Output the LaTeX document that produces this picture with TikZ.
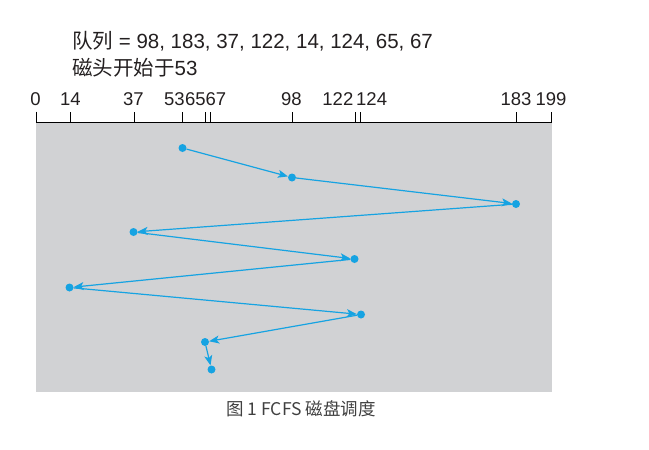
\documentclass[tikz,border=0pt]{standalone}
\usepackage{fontspec}
\setmainfont{Liberation Sans}
\newfontfamily\cjk{Noto Sans CJK SC}
\usetikzlibrary{arrows.meta}

\definecolor{diskgray}{RGB}{209,210,212}
\definecolor{seekblue}{RGB}{22,163,226}
\definecolor{inkgray}{RGB}{35,31,32}
\definecolor{capgray}{RGB}{64,64,64}

\tikzset{
  ticklabel/.style={anchor=base,inner sep=0pt,text=inkgray,font=\fontsize{18.5}{18.5}\selectfont},
  headtext/.style={anchor=base west,inner sep=0pt,text=inkgray,font=\fontsize{20.5}{20.5}\selectfont},
  request/.style={circle,fill=seekblue,inner sep=0pt,minimum size=8pt},
  seek/.style={draw=seekblue,line width=1.2pt,-{Stealth[length=10pt,width=8pt,inset=2.5pt]}},
}

\begin{document}
\begin{tikzpicture}[x=1pt,y=-1pt]
        \useasboundingbox (0,0) rectangle (649,450);
        % queue and start
        \node[headtext] (queue) at (72,48.3) {{\cjk 队列} = 98, 183, 37, 122, 14, 124, 65, 67};
        \node[headtext] (start) at (72,75) {{\cjk 磁头开始于}53};
        % disk band and cylinder axis
        \fill[diskgray] (35.5,122) rectangle (551.5,391.5);
        \draw[line width=1pt] (36,111.5) -- (36,122) -- (551,122) -- (551,111.5);
        \foreach \x in {70.7,134.7,182.3,205,210,292.3,355,360,516.3}
            \draw[line width=1pt] (\x,122) -- (\x,111.5);
        \node[ticklabel] (l0) at (35.5,105) {0};
        \node[ticklabel] (l14) at (70.5,105) {14};
        \node[ticklabel] (l37) at (133.5,105) {37};
        \node[ticklabel] (l53) at (174.5,105) {53};
        \node[ticklabel] (l65) at (195.3,105) {65};
        \node[ticklabel] (l67) at (216,105) {67};
        \node[ticklabel] (l98) at (291.5,105) {98};
        \node[ticklabel,anchor=base east] (l122) at (353.5,105) {122};
        \node[ticklabel,anchor=base west] (l124) at (356,105) {124};
        \node[ticklabel] (l183) at (516,105) {183};
        \node[ticklabel] (l199) at (551,105) {199};
        % head positions
        \node[request] (r53) at (182.5,148) {};
        \node[request] (r98) at (292,177.5) {};
        \node[request] (r183) at (516,204) {};
        \node[request] (r37) at (133.5,232) {};
        \node[request] (r122) at (354.5,259) {};
        \node[request] (r14) at (69.5,287.5) {};
        \node[request] (r124) at (361,314.5) {};
        \node[request] (r65) at (205,342) {};
        \node[request] (r67) at (211.5,369.5) {};
        \draw[seek] (r53) -- (r98);
        \draw[seek] (r98) -- (r183);
        \draw[seek] (r183) -- (r37);
        \draw[seek] (r37) -- (r122);
        \draw[seek] (r122) -- (r14);
        \draw[seek] (r14) -- (r124);
        \draw[seek] (r124) -- (r65);
        \draw[seek] (r65) -- (r67);
        % caption
        \node[anchor=base,inner sep=0pt,text=capgray,font=\cjk\fontsize{17.5}{17.5}\selectfont] (caption) at (301,415) {图 1 FCFS 磁盘调度};
\end{tikzpicture}
\end{document}
